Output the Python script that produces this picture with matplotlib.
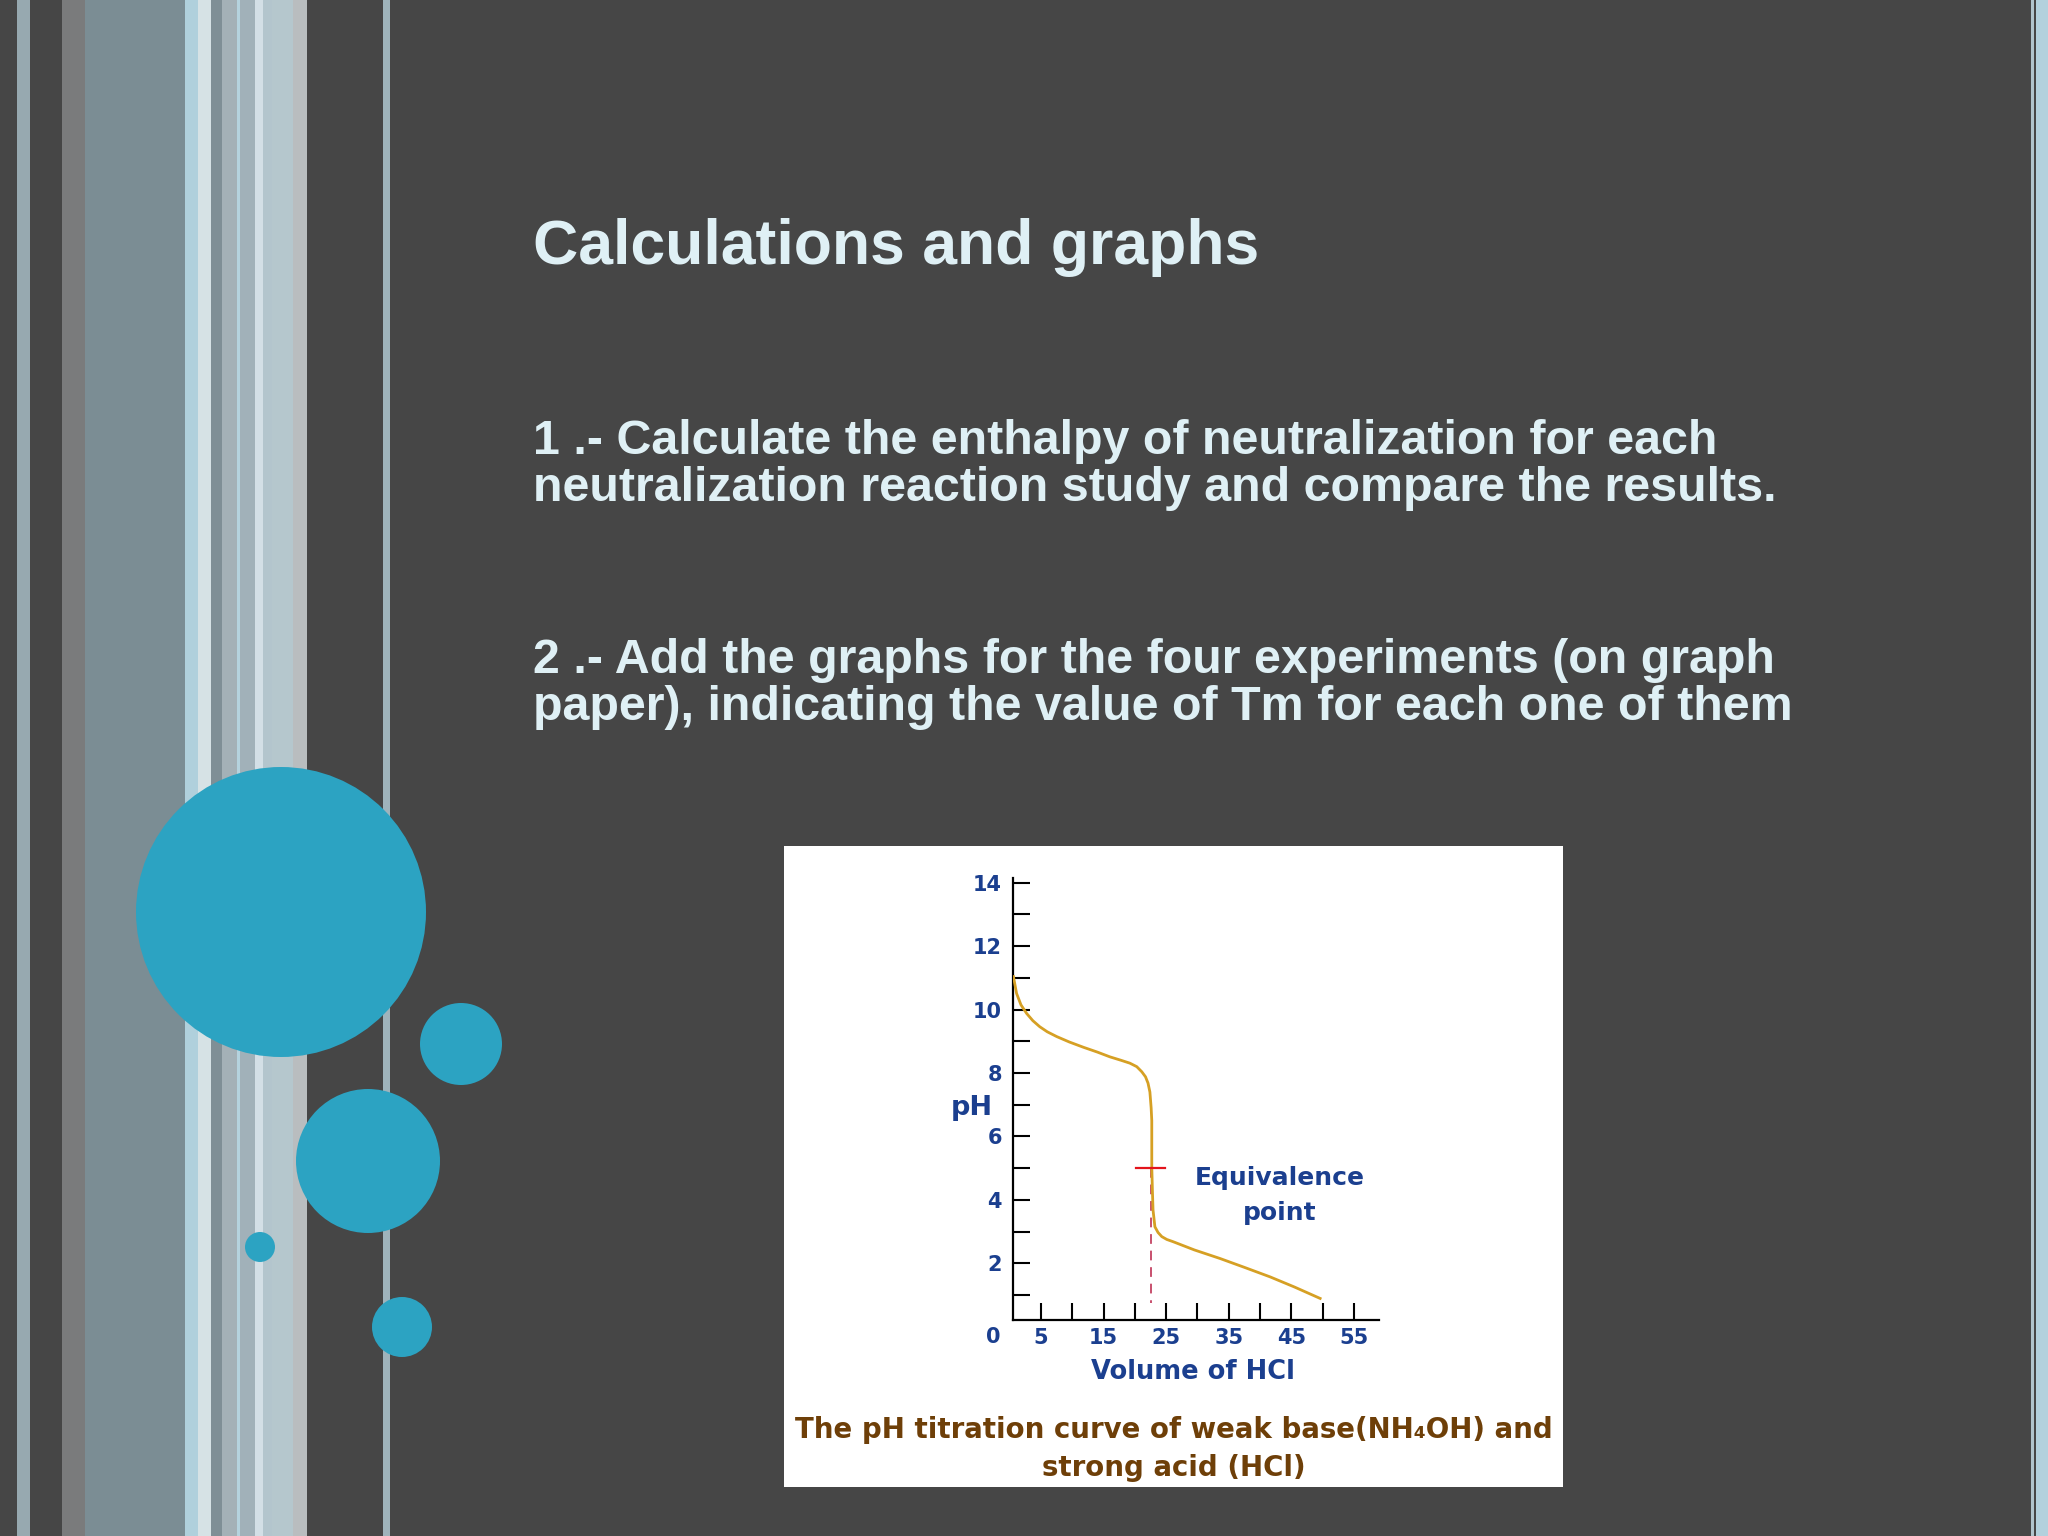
import matplotlib
matplotlib.use("Agg")
import matplotlib.pyplot as plt
from matplotlib.patches import Rectangle, Circle

# slide decoration (pixel coordinates of the 2048x1536 slide)
bg_color = "#464646"
stripes = [  # (x0, x1, colour)
    (17, 30, "#97a9b0"), (62, 85, "#7a7b7c"), (85, 185, "#7b8d94"),
    (185, 198, "#b0d0dc"), (198, 211, "#d6e2e5"), (211, 222, "#7f8f96"),
    (222, 237, "#a4b1b7"), (237, 240, "#b5d3de"), (240, 255, "#a1b1b9"),
    (255, 263, "#d3dfe6"), (263, 272, "#b3c5cd"), (272, 293, "#b5c7cd"),
    (293, 307, "#b9bdbf"), (383, 390, "#9fb3bb"),
    (2031, 2034, "#b0c4cc"), (2036, 2048, "#b3d1dd"),
]
bubbles = [(281, 912, 145), (461, 1044, 41), (368, 1161, 72),
           (260, 1247, 15), (402, 1327, 30)]
bubble_color = "#2ca3c2"

title = "Calculations and graphs"
items = [
    ["1 .- Calculate the enthalpy of neutralization for each",
     "neutralization reaction study and compare the results."],
    ["2 .- Add the graphs for the four experiments (on graph",
     "paper), indicating the value of Tm for each one of them"],
]
text_color = "#dff0f5"

# titration curve: volume of HCl vs pH
volume = [0.6, 1.1, 1.8, 2.7, 3.7, 4.8, 6.0, 7.5, 9.5, 11.8, 14.0, 16.0,
          17.8, 19.2, 20.3, 21.1, 21.7, 22.1, 22.4, 22.5, 22.6, 22.7, 22.7,
          22.7, 22.8, 22.9, 23.2, 23.7, 24.3, 25.1, 26.1, 29.5, 33.6, 37.5,
          41.6, 45.5, 49.6]
ph = [11.04, 10.51, 10.15, 9.88, 9.65, 9.46, 9.30, 9.15, 8.98, 8.81, 8.66,
      8.51, 8.40, 8.31, 8.20, 8.04, 7.88, 7.68, 7.40, 7.15, 6.90, 6.50, 5.80,
      5.04, 4.30, 3.68, 3.15, 2.97, 2.84, 2.75, 2.68, 2.42, 2.15, 1.87,
      1.57, 1.25, 0.89]
equiv_volume = 22.5
equiv_ph = 5.0
cross_half = 2.3
dash_bottom = 0.75

x_ticks = [5, 10, 15, 20, 25, 30, 35, 40, 45, 50, 55]
x_labels = ["5", "", "15", "", "25", "", "35", "", "45", "", "55"]
y_ticks = list(range(1, 15))
y_labels = [str(v) if v % 2 == 0 else "" for v in y_ticks]

caption = ["The pH titration curve of weak base(NH\u2084OH) and",
           "strong acid (HCl)"]

navy = "#1b3f8f"
brown = "#6e3f08"
curve_color = "#d6a024"

W, H = 2048, 1536
fig = plt.figure(figsize=(W / 100, H / 100), dpi=100)
fig.patch.set_facecolor(bg_color)

bg = fig.add_axes([0, 0, 1, 1])
bg.set_xlim(0, W)
bg.set_ylim(H, 0)
bg.axis("off")
bg.add_patch(Rectangle((0, 0), W, H, color=bg_color, zorder=0))
for x0, x1, c in stripes:
    bg.add_patch(Rectangle((x0, 0), x1 - x0, H, color=c, lw=0, zorder=1))
for cx, cy, r in bubbles:
    bg.add_patch(Circle((cx, cy), r, color=bubble_color, lw=0, zorder=2))

sans = ["Liberation Sans", "DejaVu Sans"]
bg.text(533, 264, title, color=text_color, fontsize=45, fontweight="bold",
        family=sans, va="baseline", ha="left")
for lines, base in zip(items, [454, 673]):
    for k, line in enumerate(lines):
        bg.text(533, base + 47 * k, line, color=text_color, fontsize=34.8,
                fontweight="bold", family=sans, va="baseline", ha="left")

# white picture box
bg.add_patch(Rectangle((784, 846), 1563 - 784, 1487 - 846, color="white",
                       lw=0, zorder=3))

ax_l, ax_r, ax_t, ax_b = 1013, 1379, 878, 1320
ax = fig.add_axes([ax_l / W, (H - ax_b) / H, (ax_r - ax_l) / W,
                   (ax_b - ax_t) / H])
ax.set_facecolor("none")
ax.plot(volume, ph, color=curve_color, lw=2.0, solid_joinstyle="round",
        zorder=3)
ax.plot([equiv_volume - cross_half, equiv_volume + cross_half],
        [equiv_ph, equiv_ph], color="#e3141c", lw=1.6, zorder=4)
ax.plot([equiv_volume, equiv_volume], [equiv_ph, dash_bottom],
        color="#c8506e", lw=1.4, linestyle=(0, (5, 3.5)), zorder=2)

ax.set_xlim(0.53, 59.0)
ax.set_ylim(0.21, 14.15)
for s in ["top", "right"]:
    ax.spines[s].set_visible(False)
for s in ["left", "bottom"]:
    ax.spines[s].set_linewidth(1.6)
    ax.spines[s].set_color("black")
ax.set_xticks(x_ticks)
ax.set_xticklabels(x_labels)
ax.set_yticks(y_ticks)
ax.set_yticklabels(y_labels)
ax.tick_params(direction="in", length=12, width=1.5, colors="black",
               labelcolor=navy, labelsize=15)
ax.tick_params(axis="y", pad=8)
ax.tick_params(axis="x", pad=6)
for lab in ax.get_xticklabels() + ax.get_yticklabels():
    lab.set_fontweight("bold")
    lab.set_family("DejaVu Sans")

dv = "DejaVu Sans"
bg.text(993, 1337, "0", color=navy, fontsize=15, fontweight="bold",
        family=dv, ha="center", va="center", zorder=5)
bg.text(972, 1108, "pH", color=navy, fontsize=19.5, fontweight="bold",
        family=dv, ha="center", va="center", zorder=5)
bg.text(1193, 1372, "Volume of HCl", color=navy, fontsize=18.5,
        fontweight="bold", family=dv, ha="center", va="center", zorder=5)
bg.text(1280, 1178, "Equivalence", color=navy, fontsize=18,
        fontweight="bold", family=dv, ha="center", va="center", zorder=5)
bg.text(1280, 1213, "point", color=navy, fontsize=18,
        fontweight="bold", family=dv, ha="center", va="center", zorder=5)
for line, yc in zip(caption, [1430, 1468]):
    bg.text(1174, yc, line, color=brown, fontsize=19.9, fontweight="bold",
            family=dv, ha="center", va="center", zorder=5)

fig.savefig("out.png", dpi=100, facecolor=bg_color)
